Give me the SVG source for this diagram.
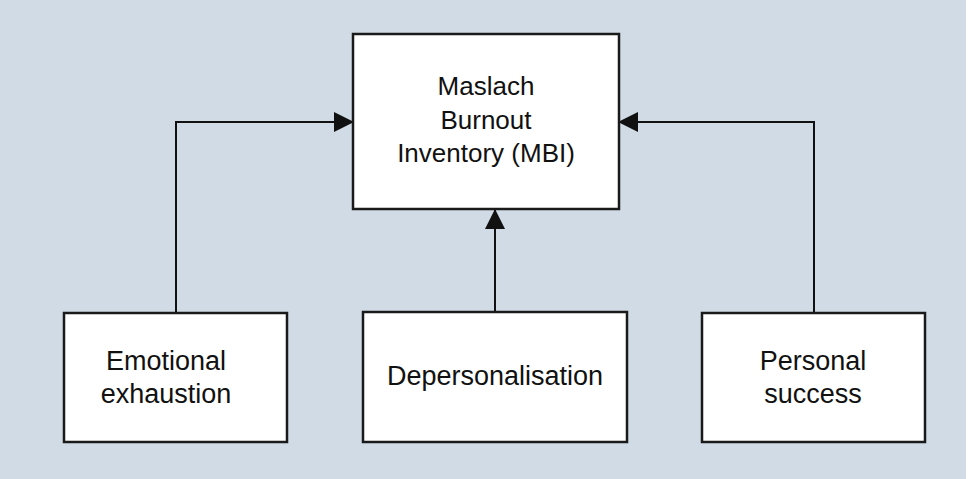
<svg xmlns="http://www.w3.org/2000/svg" width="976" height="479" viewBox="0 0 976 479">
<style>
.box{fill:#fff;stroke:#1a1a1a;stroke-width:2.5}
.t{font-family:"Liberation Sans",Arial,sans-serif;font-size:27px;fill:#111;text-anchor:middle}
.tt{font-size:26px}
.c{fill:none;stroke:#111;stroke-width:2}
</style>
<defs><marker id="b" markerWidth="20" markerHeight="20" refX="19" refY="10" orient="auto" markerUnits="userSpaceOnUse"><path d="M0,0 L20,10 L0,20Z" fill="#111"/></marker></defs>
<rect width="966" height="479" fill="#d0dbe6"/>
<g id="connectors">
<path class="c" d="M176,313 V122 H353" marker-end="url(#b)"/>
<path class="c" d="M814,313 V122 H619" marker-end="url(#b)"/>
<path class="c" d="M495,312 V210" marker-end="url(#b)"/>
</g>
<g id="mbi"><rect class="box" x="353" y="34" width="266" height="175"/>
<text class="t tt" x="486" y="95">Maslach</text><text class="t tt" x="486" y="129">Burnout</text><text class="t tt" x="486" y="162">Inventory (MBI)</text></g>
<g id="emotional"><rect class="box" x="64" y="313" width="223" height="129"/>
<text class="t" x="166" y="370">Emotional</text><text class="t" x="166" y="403">exhaustion</text></g>
<g id="depers"><rect class="box" x="363" y="312" width="264" height="130"/>
<text class="t" x="495" y="385">Depersonalisation</text></g>
<g id="personal"><rect class="box" x="702" y="313" width="223" height="129"/>
<text class="t" x="813" y="370">Personal</text><text class="t" x="813" y="403">success</text></g>
</svg>
